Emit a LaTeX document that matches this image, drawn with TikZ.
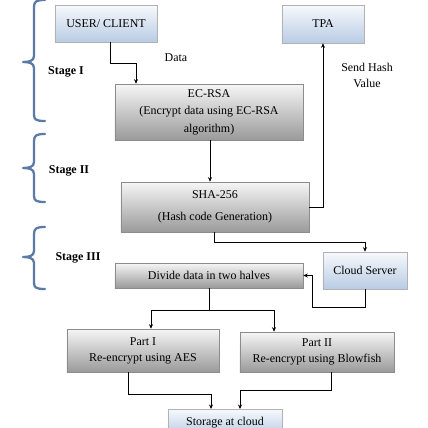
\documentclass[tikz,border=0pt]{standalone}
\usepackage{fontspec}
\setmainfont{Liberation Serif}
\usetikzlibrary{calc,shadows,arrows.meta}
\definecolor{bracec}{HTML}{5B7BA6}
\definecolor{graytop}{HTML}{F6F6F6}
\definecolor{graybot}{HTML}{9A9A9A}
\definecolor{bluetop}{HTML}{F7F9FC}
\definecolor{bluebot}{HTML}{B9CCE4}
\tikzset{
  graybox/.style={draw=black!45, line width=0.6pt, top color=graytop, bottom color=graybot,
    drop shadow={shadow xshift=1.2pt, shadow yshift=-1.2pt, fill=black!25, opacity=0.6},
    align=center, inner sep=1pt, font=\fontsize{12}{14}\selectfont},
  bluebox/.style={draw=black!30, line width=0.6pt, top color=bluetop, bottom color=bluebot,
    drop shadow={shadow xshift=1.2pt, shadow yshift=-1.2pt, fill=black!25, opacity=0.6},
    align=center, inner sep=1pt, font=\fontsize{12}{14}\selectfont},
  arr/.style={draw=black, line width=0.8pt, -{Stealth[length=4.5pt,width=4pt]}},
  ln/.style={draw=black, line width=0.8pt},
  bracep/.style={draw=bracec, line width=2.3pt, line cap=round, line join=round},
  stage/.style={font=\bfseries\fontsize{12}{14}\selectfont},
  lbl/.style={font=\fontsize{12}{14}\selectfont, align=center}
}
\begin{document}
\begin{tikzpicture}[x=1bp,y=-1bp]
\useasboundingbox (0,0) rectangle (428,428);
\begin{scope}
\clip (0,0) rectangle (428,428);
% braces
\draw[bracep] (45,0) .. controls (37,0) and (34,1) .. (34,7) -- (34,56)
  .. controls (34,61) and (29,62) .. (23,62) .. controls (29,62) and (34,63) .. (34,68)
  -- (34,115) .. controls (34,120) and (37,121) .. (45,121);
\draw[bracep] (45,134) .. controls (37,134) and (34,135) .. (34,141) -- (34,162)
  .. controls (34,167) and (29,168) .. (23,168) .. controls (29,168) and (34,169) .. (34,174)
  -- (34,196) .. controls (34,201) and (37,202) .. (45,202);
\draw[bracep] (45,227) .. controls (37,227) and (34,228) .. (34,234) -- (34,251)
  .. controls (34,256) and (29,257) .. (23,257) .. controls (29,257) and (34,258) .. (34,263)
  -- (34,283) .. controls (34,288) and (37,289) .. (45,289);
\node[stage] (s1) at (66,72) {Stage I};
\node[stage] (s2) at (69,171) {Stage II};
\node[stage] (s3) at (78,258) {Stage III};

% boxes
\node[bluebox, minimum width=102bp, minimum height=37bp] (user) at (106,23.5) {USER/ CLIENT};
\node[bluebox, minimum width=82bp, minimum height=38bp] (tpa) at (323,24) {TPA};
\node[graybox, minimum width=188bp, minimum height=56bp, font=\fontsize{12}{17.5}\selectfont] (ecrsa) at (209,112) {EC-RSA\\(Encrypt data using EC-RSA\\algorithm)};
\node[graybox, minimum width=188bp, minimum height=50bp, font=\fontsize{12}{22}\selectfont] (sha) at (215,207) {SHA-256\\(Hash code Generation)};
\node[bluebox, minimum width=84bp, minimum height=37bp] (cloud) at (365,270.5) {Cloud Server};
\node[graybox, minimum width=188bp, minimum height=25bp] (divide) at (209,275.5) {Divide data in two halves};
\node[graybox, minimum width=152bp, minimum height=43bp, font=\fontsize{12}{16}\selectfont] (part1) at (143,350.5) {Part I\\Re-encrypt using AES};
\node[graybox, minimum width=154bp, minimum height=40bp, font=\fontsize{12}{16}\selectfont] (part2) at (317,352) {Part II\\Re-encrypt using Blowfish};
\node[bluebox, minimum width=114bp, minimum height=26bp, anchor=north] (storage) at (225,409) {Storage at cloud};

% labels
\node[lbl] (data) at (176,58) {Data};
\node[lbl, font=\fontsize{12}{16}\selectfont] (send) at (367,75) {Send Hash\\Value};

% connectors
\draw[arr] ([xshift=4bp]user.south) -- ++(0,21) -| ([xshift=-73bp]ecrsa.north);
\draw[arr] ([xshift=1bp]ecrsa.south) -- ([xshift=1bp]ecrsa.south |- sha.north);
\draw[arr] (sha.east) -| (tpa.south);
\draw[arr] ([xshift=-1bp]sha.south) -- ++(0,10) -| (cloud.north);
\coordinate (c1) at (312,307);
\draw[arr] (cloud.south) |- (c1) |- (divide.east);
\coordinate (sp) at (209,310);
\draw[ln] (divide.south) -- (sp);
\draw[arr] (sp) -| ([xshift=8bp]part1.north);
\draw[arr] (sp) -| ([xshift=-43bp]part2.north);
\draw[arr] ([xshift=-15bp]part1.south) -- ++(0,22) -| ([xshift=-14bp]storage.north);
\draw[arr] ([xshift=14bp]part2.south) -- ++(0,18) -| ([xshift=15bp]storage.north);
\end{scope}
\end{tikzpicture}
\end{document}
